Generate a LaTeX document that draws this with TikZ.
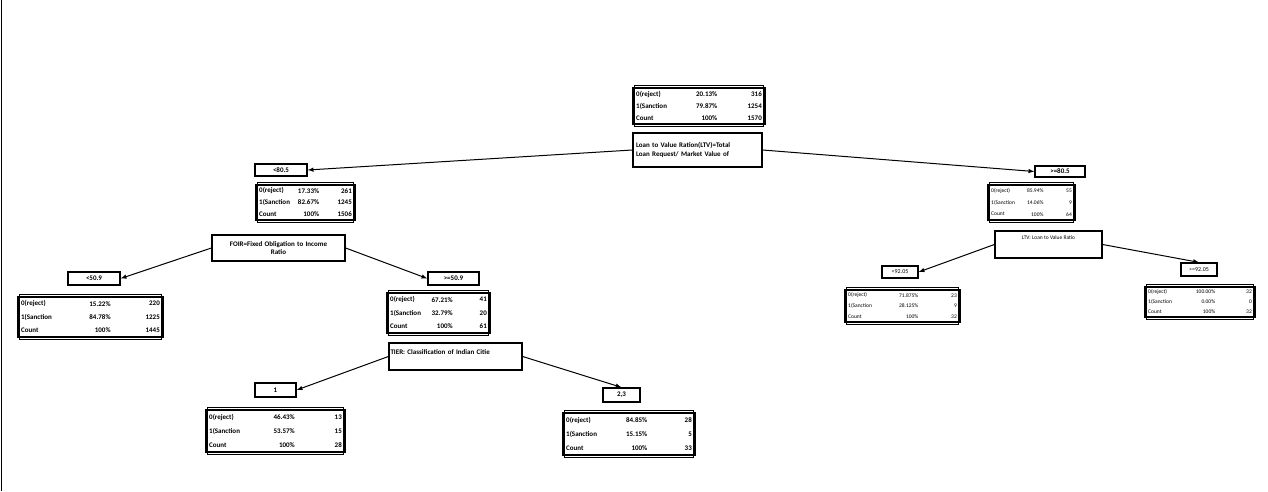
\documentclass[tikz,border=0pt]{standalone}
\usepackage{fontspec}
\setmainfont{Carlito}
\usetikzlibrary{calc}
\tikzset{
  box/.style={draw, line width=1.3pt, inner sep=0pt},
  lbl/.style={draw, line width=1.3pt, inner sep=0pt, font=\bfseries\fontsize{7}{8.5}\selectfont},
  conn/.style={line width=1pt, -latex},
  tx/.style={font=\bfseries\fontsize{7}{8}\selectfont, inner sep=0pt}
}
% \tbl{name}{x1}{y1}{x2}{y2}{p0/n0}{p1/n1}{pc/nc}
\newcommand\tbl[8]{%
  \node[box, minimum width=#4pt-#2pt, minimum height=#5pt-#3pt] (#1) at ({(#2+#4)/2},{(#3+#5)/2}) {};
  \draw[line width=0.4pt] ($(#1.north west)+(2,-2)$) rectangle ($(#1.south east)+(-2,2)$);
  \foreach \r/\a/\b/\c in {1/0(reject)/#6, 2/1(Sanction/#7, 3/Count/#8}{
    \pgfmathsetmacro\yy{#3+(#5-#3)*(\r-0.5)/3}
    \node[tx, anchor=west] at (#2+3,\yy) {\a};
    \node[tx, anchor=east] at ({#2+(#4-#2)*0.64},\yy) {\b};
    \node[tx, anchor=east] at (#4-3,\yy) {\c};
  }
}
\begin{document}
\begin{tikzpicture}[x=1pt,y=-1pt]
\useasboundingbox[fill=white] (0,0) rectangle (1268,491);
\draw[line width=0.8pt] (1,0) -- (1,491);
% root
\tbl{root}{633}{88}{765}{124}{20.13\%/316}{79.87\%/1254}{100\%/1570}
\node[lbl, minimum width=129pt, minimum height=34pt, align=left, text width=123pt] (s1) at (697.5,150) {Loan to Value Ration(LTV)=Total\\Loan Request/ Market Value of};
\node[lbl, minimum width=52pt, minimum height=12pt] (l1) at (281,170) {<80.5};
\node[lbl, minimum width=50pt, minimum height=11pt] (r1) at (1060,171.5) {>=80.5};
\draw[conn] (s1.west) -- (l1.east);
\draw[conn] (s1.east) -- (r1.west);
% left branch
\tbl{nl}{256}{185}{355}{220}{17.33\%/261}{82.67\%/1245}{100\%/1506}
\node[lbl, minimum width=133pt, minimum height=26pt, align=center, text width=130pt] (s2) at (278.5,248) {FOIR=Fixed Obligation to Income\\Ratio};
\node[lbl, minimum width=52pt, minimum height=13pt] (l2) at (94,278.5) {<50.9};
\node[lbl, minimum width=51pt, minimum height=13pt] (r2) at (453.5,278.5) {>=50.9};
\draw[conn] (s2.west) -- (l2.east);
\draw[conn] (s2.east) -- (r2.west);
\tbl{nll}{18}{297}{163}{337}{15.22\%/220}{84.78\%/1225}{100\%/1445}
\tbl{nlr}{387}{293}{490}{333}{67.21\%/41}{32.79\%/20}{100\%/61}
\node[lbl, minimum width=133pt, minimum height=27pt, align=left, text width=130pt] (s3) at (455.5,356.5) {TIER: Classification of Indian Citie\\\mbox{}};
\node[lbl, minimum width=41pt, minimum height=14pt] (l3) at (275.5,390) {1};
\node[lbl, minimum width=37pt, minimum height=14pt] (r3) at (621.5,395) {2,3};
\draw[conn] (s3.west) -- (l3.east);
\draw[conn] (s3.east) -- (r3.north);
\tbl{n1}{206}{410}{345}{452}{46.43\%/13}{53.57\%/15}{100\%/28}
\tbl{n23}{563}{413}{695}{455}{84.85\%/28}{15.15\%/5}{100\%/33}
% right branch
\begin{scope}[tx/.style={font=\fontsize{5.5}{6}\selectfont, inner sep=0pt}]
\tbl{nr}{988}{185}{1075}{220}{85.94\%/55}{14.06\%/9}{100\%/64}
\tbl{nrl}{845}{290}{960}{322}{71.875\%/23}{28.125\%/9}{100\%/32}
\tbl{nrr}{1145}{287}{1255}{317}{100.00\%/32}{0.00\%/0}{100\%/32}
\end{scope}
\node[box, minimum width=107pt, minimum height=27pt, font=\fontsize{5.5}{6}\selectfont, text depth=14pt] (s4) at (1048.5,244.5) {LTV: Loan to Value Ratio};
\node[lbl, minimum width=36pt, minimum height=12pt, font=\fontsize{6}{7}\selectfont] (l4) at (900,272) {<92.05};
\node[lbl, minimum width=36pt, minimum height=13pt, font=\fontsize{6}{7}\selectfont] (r4) at (1199,269.5) {>=92.05};
\draw[conn] (s4.west) -- (l4.east);
\draw[conn] (s4.east) -- (r4.north);
\end{tikzpicture}
\end{document}
